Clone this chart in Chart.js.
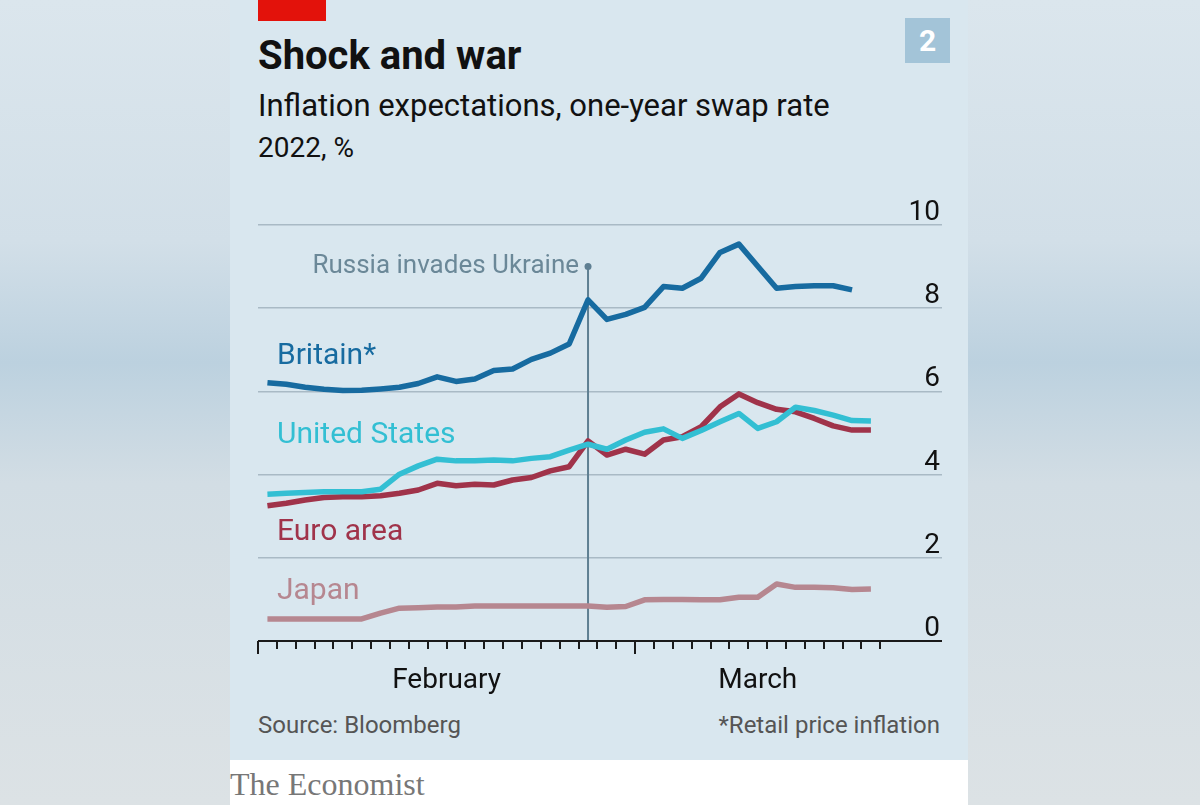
<!DOCTYPE html>
<html>
<head>
<meta charset="utf-8">
<script src="https://cdn.jsdelivr.net/npm/chart.js@4.4.1/dist/chart.umd.min.js"></script>
<style>
  body { margin: 0; width: 1200px; height: 805px; overflow: hidden; position: relative;
    background: linear-gradient(180deg, #dbe6ed 0%, #d2dfe8 30%, #bcd1df 45%, #d2dde4 60%, #dce2e5 100%);
    font-family: Roboto, "Noto Sans", sans-serif; }
  .panel { position: absolute; left: 230px; top: 0; width: 738px; height: 760px; background: #d9e7ef; }
  .foot { position: absolute; left: 230px; top: 760px; width: 738px; height: 45px; background: #fff; }
  .redbar { position: absolute; left: 258px; top: 0; width: 68px; height: 21px; background: #e3120b; }
  .badge { position: absolute; left: 905px; top: 18px; width: 45px; height: 45px; background: #a3c4d8;
    color: #fff; font-weight: bold; font-size: 30px; line-height: 45px; text-align: center; }
  .txt { position: absolute; white-space: nowrap; line-height: 1; color: #111; }
  #title { left: 258px; top: 36px; font-size: 40px; font-weight: bold; }
  #sub { left: 258px; top: 90px; font-size: 31px; }
  #unit { left: 258px; top: 134px; font-size: 28px; }
  #source { left: 258px; top: 713px; font-size: 24px; color: #555; }
  #note { right: 260px; top: 713px; font-size: 24px; color: #555; }
  #brand { left: 230px; top: 768px; font-size: 32px; color: #777; font-family: "Liberation Serif", "DejaVu Serif", serif; }
  #wrap { position: absolute; left: 230px; top: 170px; width: 738px; height: 540px; }
</style>
</head>
<body>
<div class="panel"></div>
<div class="foot"></div>
<div class="redbar"></div>
<div class="badge">2</div>
<div class="txt" id="title">Shock and war</div>
<div class="txt" id="sub">Inflation expectations, one-year swap rate</div>
<div class="txt" id="unit">2022, %</div>
<div class="txt" id="source">Source: Bloomberg</div>
<div class="txt" id="note">*Retail price inflation</div>
<div class="txt" id="brand">The Economist</div>
<div id="wrap"><canvas id="chart" width="738" height="540"></canvas></div>

<script>
// business days, Feb 1 - Mar 17 2022
const dates = [
  '02-01', '02-02', '02-03', '02-04', '02-07', '02-08', '02-09', '02-10', '02-11',
  '02-14', '02-15', '02-16', '02-17', '02-18', '02-21', '02-22', '02-23', '02-24', '02-25', '02-28',
  '03-01', '03-02', '03-03', '03-04', '03-07', '03-08', '03-09', '03-10', '03-11',
  '03-14', '03-15', '03-16', '03-17'
];
const monthLabels = ['February', 'March'];
const monthStarts = ['02-01', '03-01'];
const invasionDate = '02-24';
const yTicks = [0, 2, 4, 6, 8, 10];

const britain = [6.21, 6.17, 6.10, 6.05, 6.02, 6.03, 6.06, 6.10, 6.19, 6.35, 6.24, 6.30, 6.50, 6.54, 6.77, 6.92,
  7.14, 8.20, 7.73, 7.85, 8.02, 8.52, 8.48, 8.72, 9.34, 9.54, 9.01, 8.48, 8.52, 8.54, 8.54, 8.44];
const unitedStates = [3.53, 3.55, 3.57, 3.59, 3.59, 3.59, 3.65, 4.01, 4.21, 4.37, 4.33, 4.33, 4.35, 4.33, 4.39, 4.43,
  4.59, 4.73, 4.61, 4.83, 5.02, 5.10, 4.87, 5.06, 5.27, 5.47, 5.11, 5.27, 5.62, 5.54, 5.43, 5.30, 5.29];
const euroArea = [3.25, 3.31, 3.39, 3.45, 3.47, 3.47, 3.49, 3.55, 3.63, 3.79, 3.73, 3.77, 3.75, 3.87, 3.93, 4.09,
  4.19, 4.81, 4.47, 4.61, 4.49, 4.83, 4.91, 5.15, 5.63, 5.94, 5.73, 5.57, 5.51, 5.35, 5.17, 5.07, 5.07];
const japan = [0.53, 0.53, 0.53, 0.53, 0.53, 0.53, 0.67, 0.79, 0.80, 0.82, 0.82, 0.84, 0.84, 0.84, 0.84, 0.84,
  0.84, 0.84, 0.81, 0.83, 0.99, 1.00, 1.00, 0.99, 0.99, 1.05, 1.05, 1.37, 1.29, 1.29, 1.28, 1.24, 1.25];

const seriesNames = ['Britain*', 'United States', 'Euro area', 'Japan'];
const seriesColors = ['#176ba0', '#33bfd3', '#a0334a', '#b68790'];
// where the inline labels sit (value on y axis)
const labelY = [6.83, 4.95, 2.62, 1.18];

const FONT = 'Roboto, "Noto Sans", sans-serif';

function toPoints(values) {
  // each day sits in the middle of its tick slot
  return values.map((v, i) => ({ x: i + 0.5, y: v }));
}

const extras = {
  id: 'extras',
  beforeDatasetsDraw(chart) {
    const { ctx, scales: { x, y } } = chart;
    const px = x.getPixelForValue(dates.indexOf(invasionDate) + 0.5);
    const top = y.getPixelForValue(9.0);
    ctx.save();
    ctx.strokeStyle = '#5f7f92';
    ctx.lineWidth = 2;
    ctx.beginPath();
    ctx.moveTo(px, top);
    ctx.lineTo(px, y.getPixelForValue(0));
    ctx.stroke();
    ctx.fillStyle = '#5f7f92';
    ctx.beginPath();
    ctx.arc(px, top, 3.5, 0, Math.PI * 2);
    ctx.fill();
    ctx.font = '26px ' + FONT;
    ctx.fillStyle = '#6b8898';
    ctx.textAlign = 'right';
    ctx.textBaseline = 'middle';
    ctx.fillText('Russia invades Ukraine', px - 9, top);
    ctx.restore();
  },
  afterDraw(chart) {
    const { ctx, chartArea, scales: { x, y } } = chart;
    const base = y.getPixelForValue(0);
    ctx.save();

    // y labels sit above their gridlines on the right
    ctx.font = '28px ' + FONT;
    ctx.fillStyle = '#111';
    ctx.textAlign = 'right';
    ctx.textBaseline = 'alphabetic';
    yTicks.forEach(t => ctx.fillText(String(t), chartArea.right - 2, y.getPixelForValue(t) - 5));

    // x axis line and day ticks
    ctx.strokeStyle = '#1a1a1a';
    ctx.lineWidth = 2;
    ctx.beginPath();
    ctx.moveTo(chartArea.left, base);
    ctx.lineTo(chartArea.right, base);
    ctx.stroke();
    for (let i = 0; i <= dates.length; i++) {
      const tx = Math.round(x.getPixelForValue(i));
      const isMonth = monthStarts.includes(dates[i]);
      ctx.beginPath();
      ctx.moveTo(tx, base);
      ctx.lineTo(tx, base + (isMonth ? 13 : 8));
      ctx.stroke();
    }

    // month names centred over their days
    ctx.font = '28px ' + FONT;
    ctx.textAlign = 'center';
    monthLabels.forEach((m, k) => {
      const s = dates.indexOf(monthStarts[k]);
      const e = k + 1 < monthStarts.length ? dates.indexOf(monthStarts[k + 1]) : dates.length;
      ctx.fillText(m, (x.getPixelForValue(s) + x.getPixelForValue(e)) / 2, base + 47);
    });

    // inline series labels
    ctx.font = '30px ' + FONT;
    ctx.textAlign = 'left';
    ctx.textBaseline = 'middle';
    seriesNames.forEach((n, k) => {
      ctx.fillStyle = seriesColors[k];
      ctx.fillText(n, chartArea.left + 19, y.getPixelForValue(labelY[k]));
    });
    ctx.restore();
  }
};

const seriesData = [britain, unitedStates, euroArea, japan];
const drawOrder = [0, 1, 2, 3];

new Chart(document.getElementById('chart'), {
  type: 'line',
  data: {
    datasets: seriesData.map((vals, k) => ({
      label: seriesNames[k],
      data: toPoints(vals),
      borderColor: seriesColors[k],
      borderWidth: 5.5,
      pointRadius: 0,
      tension: 0,
      borderJoinStyle: 'round',
      order: drawOrder[k]
    }))
  },
  options: {
    responsive: false,
    animation: false,
    layout: { padding: { left: 28, right: 26, top: 55, bottom: 69 } },
    plugins: { legend: { display: false }, tooltip: { enabled: false } },
    scales: {
      x: { type: 'linear', min: 0, max: 36.27, display: false },
      y: {
        min: 0, max: 10,
        afterBuildTicks: (s) => { s.ticks = yTicks.map(v => ({ value: v })); },
        ticks: { display: false },
        border: { display: false },
        grid: { drawTicks: false, color: '#a9bac5', lineWidth: 1.5 }
      }
    }
  },
  plugins: [extras]
});
</script>
</body>
</html>
